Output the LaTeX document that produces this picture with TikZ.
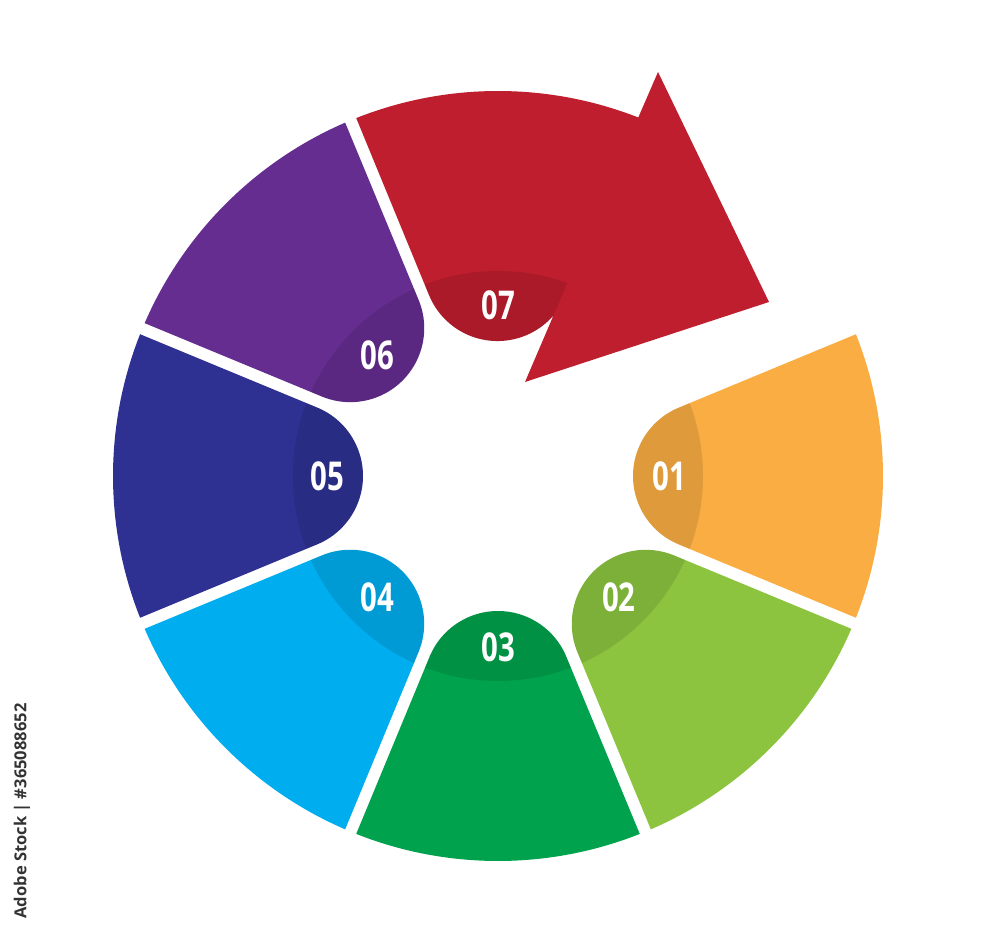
\documentclass[tikz,border=0pt]{standalone}
\usepackage{fontspec}
\newfontfamily\numfont[FakeStretch=0.74]{Open Sans}
\newfontfamily\idfont{Open Sans}
\usepackage{tikz}
\usetikzlibrary{positioning}
\definecolor{stepone}{RGB}{249, 173, 66}
\definecolor{steptwo}{RGB}{140, 196, 64}
\definecolor{stepthree}{RGB}{0, 162, 77}
\definecolor{stepfour}{RGB}{0, 173, 238}
\definecolor{stepfive}{RGB}{46, 49, 146}
\definecolor{stepsix}{RGB}{101, 45, 144}
\definecolor{stepseven}{RGB}{190, 30, 45}
\tikzstyle{steplabel} = [text=white, inner sep=0pt, font=\numfont\bfseries\fontsize{11.3}{11}\selectfont]
\tikzstyle{tabshade} = [fill=black, opacity=0.1]
% one ring piece, pointing along the x axis
\newcommand{\segpath}{(21.61:3.85) arc[start angle=21.61, end angle=-21.61, radius=3.85] -- (1.807,-0.684) arc[start angle=-112.5, end angle=-247.5, radius=0.74] -- cycle}
% body of the arrow piece, without its head
\newcommand{\arrowbody}{(111.61:3.85) arc[start angle=111.61, end angle=68.63, radius=3.85] -- (0.555,1.606) arc[start angle=-40.8, end angle=-157.5, radius=0.74] -- cycle}

\begin{document}
\begin{tikzpicture}
    \useasboundingbox (-4.98,-4.69) rectangle (5.02,4.76);

    % Ring pieces 01 to 06
    \foreach \ang/\col/\num in {0/stepone/01, -45/steptwo/02, -90/stepthree/03, -135/stepfour/04, -180/stepfive/05, -225/stepsix/06} {
        \begin{scope}[rotate=\ang]
            \fill[\col] \segpath;
            \begin{scope}
                \clip \segpath;
                \fill[tabshade] (0,0) circle (2.05);
            \end{scope}
        \end{scope}
        \node[steplabel] (step\num) at (\ang:1.71) {\num};
    }

    % Arrow piece 07
    \fill[stepseven] (111.61:3.85) arc[start angle=111.61, end angle=68.63, radius=3.85] -- (1.60,4.04) -- (2.71,1.74) -- (0.27,0.94) -- (0.555,1.606) arc[start angle=-40.8, end angle=-157.5, radius=0.74] -- cycle;
    \begin{scope}
        \clip \arrowbody;
        \fill[tabshade] (0,0) circle (2.05);
    \end{scope}
    \node[steplabel] (step07) at (90:1.71) {07};

    % Stock id
    \node[rotate=90, text=black!80, inner sep=0pt, font=\idfont\bfseries\fontsize{4.7}{6}\selectfont] (stockid) at (-4.76,-3.35) {Adobe Stock | \#365088652};
\end{tikzpicture}
\end{document}
